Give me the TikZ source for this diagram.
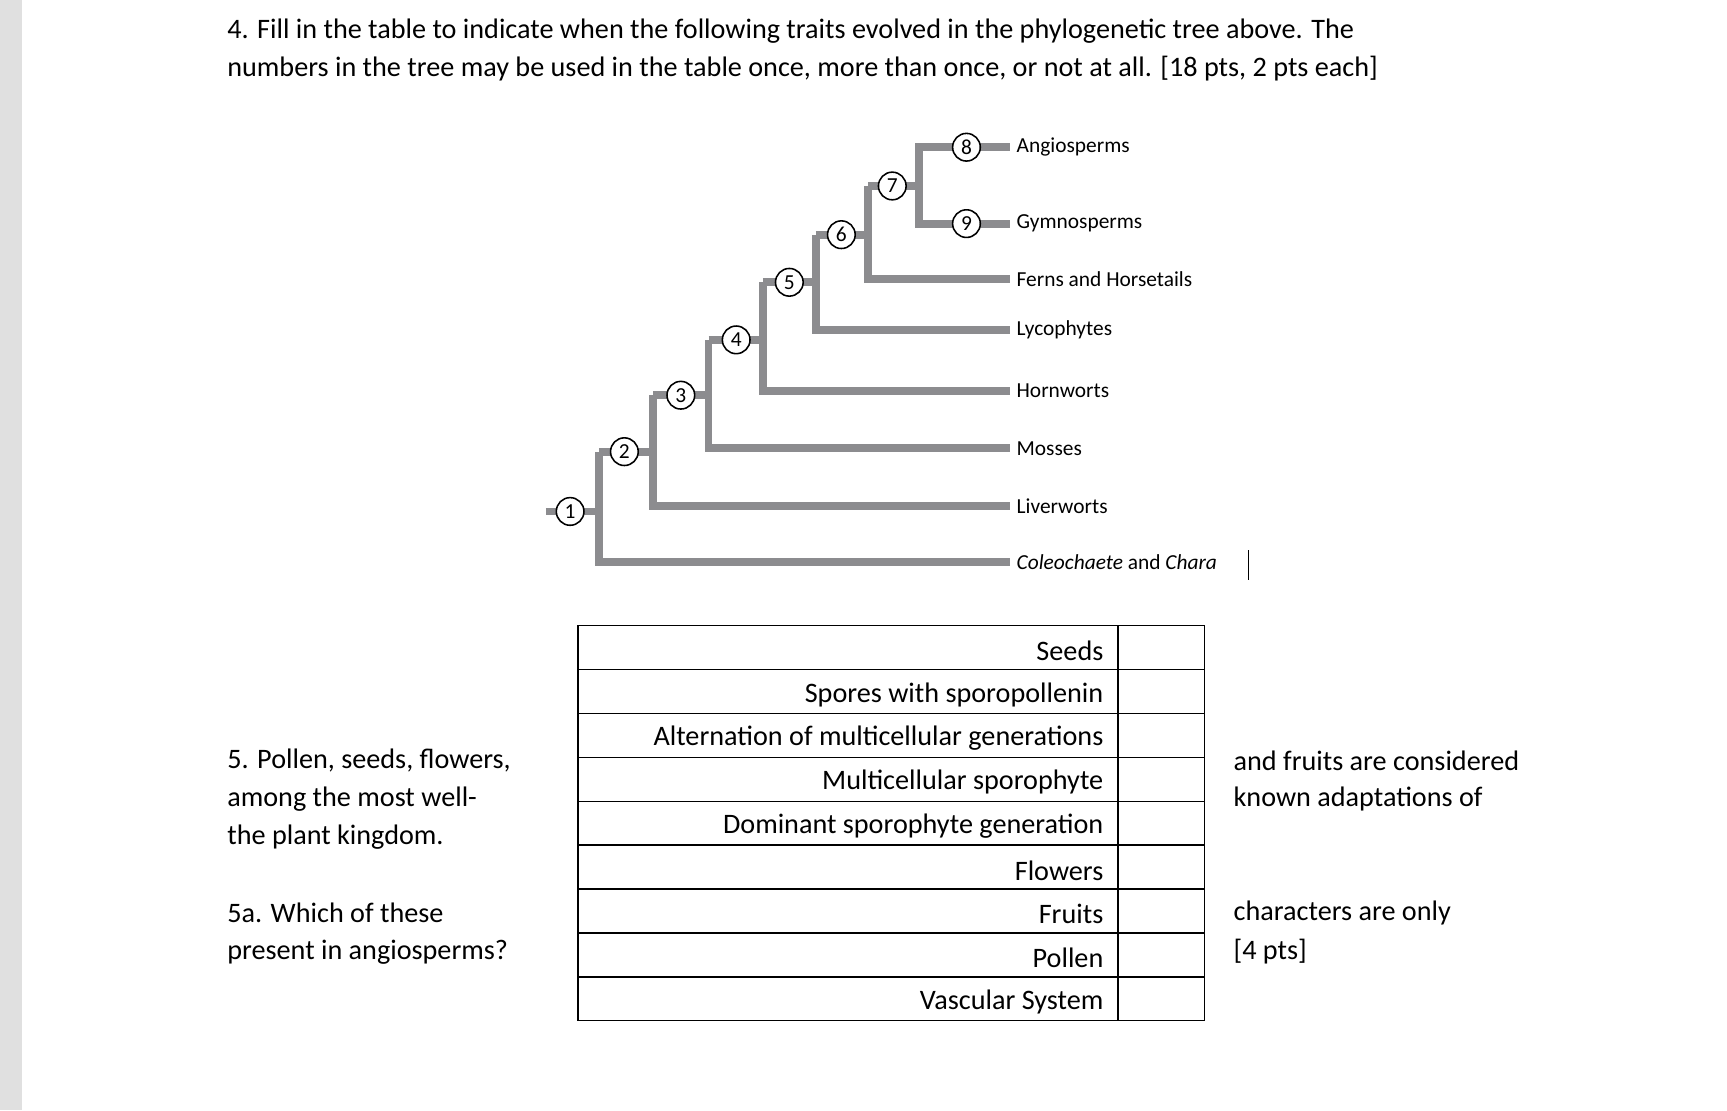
\documentclass[tikz,border=0pt]{standalone}
\usepackage{fontspec}
\setmainfont{Carlito}
\begin{document}
\begin{tikzpicture}[x=0.02cm,y=-0.02cm,
  br/.style={draw=treegray,line width=4pt},
  num/.style={circle,draw,thick,fill=white,inner sep=0pt,minimum size=0.5cm,font=\fontsize{11}{12}\selectfont},
  lab/.style={anchor=west,inner sep=0pt,font=\fontsize{11}{13}\selectfont},
  txt/.style={anchor=west,inner sep=0pt,font=\fontsize{14.5}{17}\selectfont},
  cell/.style={anchor=east,inner sep=0pt,font=\fontsize{14.5}{17}\selectfont}]
\definecolor{treegray}{RGB}{140,140,143}
\useasboundingbox (0,0) rectangle (1560,1003);
\fill[black!12] (0,0) rectangle (20,1003);
\node[txt] (h1) at (205,28) {4. Fill in the table to indicate when the following traits evolved in the phylogenetic tree above. The};
\node[txt] (h2) at (205,62) {numbers in the tree may be used in the table once, more than once, or not at all. [18 pts, 2 pts each]};
% tree
\draw[br] (493,462) -- (541,462);
\draw[br] (541,408) -- (541,508) -- (912,508);
\draw[br] (541,408) -- (590,408);
\draw[br] (590,357) -- (590,457) -- (912,457);
\draw[br] (590,357) -- (640,357);
\draw[br] (640,307) -- (640,405) -- (912,405);
\draw[br] (640,307) -- (689,307);
\draw[br] (689,255) -- (689,353) -- (912,353);
\draw[br] (689,255) -- (737,255);
\draw[br] (737,212) -- (737,298) -- (912,298);
\draw[br] (737,212) -- (784,212);
\draw[br] (784,168) -- (784,252) -- (912,252);
\draw[br] (784,168) -- (830,168);
\draw[br] (912,133) -- (830,133) -- (830,202) -- (912,202);
\foreach \n/\x/\y in {1/515/462,2/564/408,3/615/357,4/665/307,5/713/255,6/760/212,7/806/168,8/873/133,9/873/202}
  \node[num] (n\n) at (\x,\y) {\n};
\node[lab] (t8) at (918,133) {Angiosperms};
\node[lab] (t9) at (918,202) {Gymnosperms};
\node[lab] (tf) at (918,252) {Ferns and Horsetails};
\node[lab] (tl) at (918,298) {Lycophytes};
\node[lab] (th) at (918,353) {Hornworts};
\node[lab] (tm) at (918,405) {Mosses};
\node[lab] (tv) at (918,457) {Liverworts};
\node[lab] (tc) at (918,508) {\textit{Coleochaete} and \textit{Chara}};
\draw[thin] (1128,497) -- (1128,524);
% table
\draw[thick] (522,565) rectangle (1088,922);
\draw[thick] (1010,565) -- (1010,922);
\foreach \i in {1,...,8} \draw[thick] (522,565+\i*39.7) -- (1088,565+\i*39.7);
\foreach \t [count=\i] in {Seeds,Spores with sporopollenin,Alternation of multicellular generations,Multicellular sporophyte,Dominant sporophyte generation,Flowers,Fruits,Pollen,Vascular System}
  \node[cell] (c\i) at (997,565+\i*39.7-17) {\t};
% side text
\node[txt] (l1) at (205,687) {5. Pollen, seeds, flowers,};
\node[txt] (l2) at (205,722) {among the most well-};
\node[txt] (l3) at (205,756) {the plant kingdom.};
\node[txt] (l4) at (205,825) {5a. Which of these};
\node[txt] (l5) at (205,860) {present in angiosperms?};
\node[txt] (r1) at (1114,687) {and fruits are considered};
\node[txt] (r2) at (1114,722) {known adaptations of};
\node[txt] (r3) at (1114,825) {characters are only};
\node[txt] (r4) at (1114,860) {[4 pts]};
\end{tikzpicture}
\end{document}
